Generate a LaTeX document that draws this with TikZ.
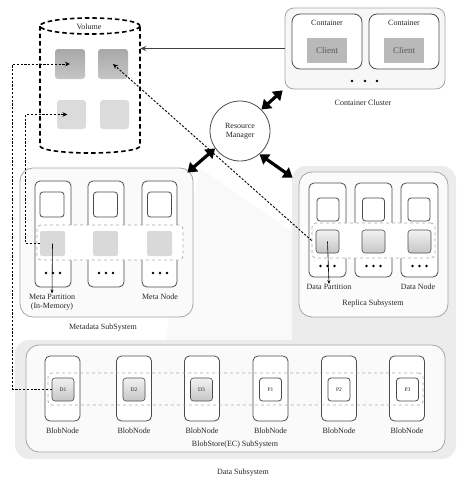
\documentclass[tikz,border=0pt]{standalone}
\usepackage{fontspec}
\setmainfont{Liberation Serif}
\usetikzlibrary{arrows.meta}
\begin{document}
\begin{tikzpicture}[x=1pt,y=-1pt,
  every node/.style={font=\fontsize{8}{9.5}\selectfont, text=black!85, inner sep=0pt},
  frame/.style={draw=gray!70, line width=0.8pt, rounded corners=13pt, fill=gray!4},
  tallbox/.style={draw=gray!60!black, line width=0.8pt, rounded corners=5pt, fill=white},
  smallsq/.style={draw=gray!60!black, line width=0.8pt, rounded corners=3pt, fill=white},
  band/.style={draw=gray!65, dashed, line width=0.8pt, rounded corners=4pt},
  volsqdark/.style={rounded corners=3pt, top color=gray!68, bottom color=gray!45},
  volsqlight/.style={rounded corners=3pt, fill=gray!28},
  metasq/.style={rounded corners=2pt, fill=gray!30},
  gradsq/.style={draw=gray!60!black, line width=0.6pt, rounded corners=3pt, top color=gray!10, bottom color=gray!45},
  dconn/.style={dash pattern=on 2.2pt off 1.6pt, line width=0.9pt, black, -{Stealth[length=5pt,width=4.5pt]}},
  bigarrow/.style={line width=3.2pt, black, {Triangle[length=9pt,width=12pt]}-{Triangle[length=9pt,width=12pt]}},
  thinarrow/.style={line width=0.6pt, black, -{Stealth[length=4pt,width=3pt]}},
  voldash/.style={dash pattern=on 4.5pt off 3pt, line width=1.6pt, black}]
\useasboundingbox (0,0) rectangle (474,493);

% ---------- Data subsystem background ----------
\fill[gray!15, rounded corners=14pt] (292,166) -- (456,166) -- (456,459) -- (15,459) -- (15,340) -- (292,340) -- cycle;
\fill[gray!5] (200,168) -- (292,232) -- (292,340) -- (165,340) -- cycle;

% ---------- Volume ----------
\node[draw=none, minimum width=100pt, minimum height=130pt] (vol) at (90,88) {};
\draw[voldash] (90,26) ellipse [x radius=50, y radius=8];
\draw[voldash] (40,26) -- (40,146) arc[start angle=180, end angle=0, x radius=50, y radius=7] -- (140,26);
\node at (89,27) {Volume};
\node[volsqdark, minimum width=30pt, minimum height=30pt] (vs1) at (70,64) {};
\node[volsqdark, minimum width=30pt, minimum height=30pt] (vs2) at (113,64) {};
\node[volsqlight, minimum width=29pt, minimum height=29pt] (vs3) at (71.5,114.5) {};
\node[volsqlight, minimum width=29pt, minimum height=29pt] (vs4) at (114.5,114.5) {};

% ---------- Container cluster ----------
\node[frame, rounded corners=9pt, fill=gray!6, minimum width=160pt, minimum height=81pt] (cc) at (365,48.5) {};
\node[tallbox, rounded corners=8pt, minimum width=70pt, minimum height=55pt] (c1) at (327,41.5) {};
\node[tallbox, rounded corners=8pt, minimum width=70pt, minimum height=55pt] (c2) at (404,41.5) {};
\node at (327,23) {Container};
\node at (404,23) {Container};
\node[fill=gray!55, minimum width=40pt, minimum height=25pt, font=\fontsize{9}{10}\selectfont, text=black!65] (cl1) at (327,50.5) {Client};
\node[fill=gray!55, minimum width=40pt, minimum height=25pt, font=\fontsize{9}{10}\selectfont, text=black!65] (cl2) at (404,50.5) {Client};
\foreach \x in {352,365,377} \fill[black] (\x,81) circle (1.3pt);
\node at (363,103) {Container Cluster};
\draw[line width=1pt, black!75, -{Stealth[length=6pt,width=5pt]}] (cc.west) -- (vol.east |- cc.west);

% ---------- Resource manager ----------
\node[draw=gray!60!black, line width=0.8pt, circle, minimum size=60pt, align=center] (rm) at (240,131) {Resource\\Manager};

% ---------- Metadata subsystem ----------
\node[frame, minimum width=173pt, minimum height=149pt] (md) at (106.5,242.5) {};
\foreach \n/\x/\w in {1/53/36, 2/106/36, 3/159.5/35} {
  \node[tallbox, minimum width=\w pt, minimum height=106pt] (mn\n) at (\x,234) {};
}
\node[smallsq, minimum width=24pt, minimum height=25pt] (mt1) at (52,204.5) {};
\node[smallsq, minimum width=24pt, minimum height=25pt] (mt2) at (105.5,204.5) {};
\node[smallsq, minimum width=24pt, minimum height=25pt] (mt3) at (159.5,204.5) {};
\node[band, fill=white, minimum width=146pt, minimum height=35pt] (mb) at (110,242.5) {};
\node[metasq, minimum width=25pt, minimum height=25pt] (mp1) at (52.5,243.5) {};
\node[metasq, minimum width=25pt, minimum height=25pt] (mp2) at (105.5,243.5) {};
\node[metasq, minimum width=25pt, minimum height=25pt] (mp3) at (159.5,243.5) {};
\foreach \x in {53,106,160} \foreach \d in {-7,0,7} \fill[black] (\x+\d,273) circle (1.3pt);
\node[align=center] (mpl) at (52,302) {Meta Partition\\(In-Memory)};
\draw[thinarrow] (mp1.center) -- (mpl.north);
\node at (160,297) {Meta Node};
\node at (103,328) {Metadata SubSystem};

% ---------- Replica subsystem ----------
\node[frame, fill=gray!3, minimum width=149pt, minimum height=145pt] (rp) at (373.5,244.5) {};
\foreach \n/\x in {1/327.5, 2/373.5, 3/419.5} {
  \node[tallbox, minimum width=37pt, minimum height=94pt] (dn\n) at (\x,230) {};
}
\node[smallsq, minimum width=22pt, minimum height=23pt] (dt1) at (328,209.5) {};
\node[smallsq, minimum width=22pt, minimum height=23pt] (dt2) at (373.5,209.5) {};
\node[smallsq, minimum width=22pt, minimum height=23pt] (dt3) at (419,209.5) {};
\node[band, fill=white, minimum width=123pt, minimum height=35pt] (rb) at (373.5,240.5) {};
\node[gradsq, minimum width=23pt, minimum height=23pt] (dp1) at (327.5,241.5) {};
\node[gradsq, minimum width=23pt, minimum height=23pt] (dp2) at (373.5,241.5) {};
\node[gradsq, minimum width=23pt, minimum height=23pt] (dp3) at (419.5,241.5) {};
\foreach \x in {327.5,373.5,419.5} \foreach \d in {-7,0,7} \fill[black] (\x+\d,266) circle (1.3pt);
\node (dpl) at (329,287) {Data Partition};
\draw[thinarrow] (dp1.center) -- (dpl.north);
\node at (418,287) {Data Node};
\node at (373,304) {Replica Subsystem};

% ---------- BlobStore subsystem ----------
\node[frame, minimum width=419pt, minimum height=107pt] (bs) at (235.5,398.5) {};
\foreach \n/\x in {1/62.5, 2/134, 3/202, 4/270.5, 5/339, 6/407} {
  \node[tallbox, minimum width=35pt, minimum height=65pt] (bn\n) at (\x,388.5) {};
  \node at (\x,431) {BlobNode};
}
\node[band, minimum width=375pt, minimum height=32pt] (bb) at (235.5,389) {};
\node[gradsq, minimum width=22pt, minimum height=23pt, font=\fontsize{5.5}{6}\selectfont] (d1) at (63,389.5) {D1};
\node[gradsq, minimum width=22pt, minimum height=23pt, font=\fontsize{5.5}{6}\selectfont] (d2) at (134,389.5) {D2};
\node[gradsq, minimum width=22pt, minimum height=23pt, font=\fontsize{5.5}{6}\selectfont] (d3) at (201.5,389.5) {D3};
\node[smallsq, minimum width=22pt, minimum height=23pt, font=\fontsize{5.5}{6}\selectfont] (p1) at (270.5,389.5) {P1};
\node[smallsq, minimum width=22pt, minimum height=23pt, font=\fontsize{5.5}{6}\selectfont] (p2) at (339,389.5) {P2};
\node[smallsq, minimum width=22pt, minimum height=23pt, font=\fontsize{5.5}{6}\selectfont] (p3) at (407.5,389.5) {P3};
\node at (235,445) {BlobStore(EC) SubSystem};
\node at (243,473) {Data Subsystem};

% ---------- Thick double arrows ----------
\draw[bigarrow] (rm.45) -- ([shift={(-2,1)}]cc.south west);
\draw[bigarrow] (rm.215) -- ([shift={(-6,5)}]md.north east);
\draw[bigarrow] (rm.-50) -- ([shift={(-6,6)}]rp.north west);

% ---------- Dashed connectors ----------
\draw[dconn] (d1.west) -- ++(-39,0) |- (vs1.center);
\draw[dconn, shorten >=4pt] (mp1.west) -- ++(-14,0) |- (vs3.center);
\draw[dconn] (rb.west) -- (vs2.center);
\end{tikzpicture}
\end{document}
